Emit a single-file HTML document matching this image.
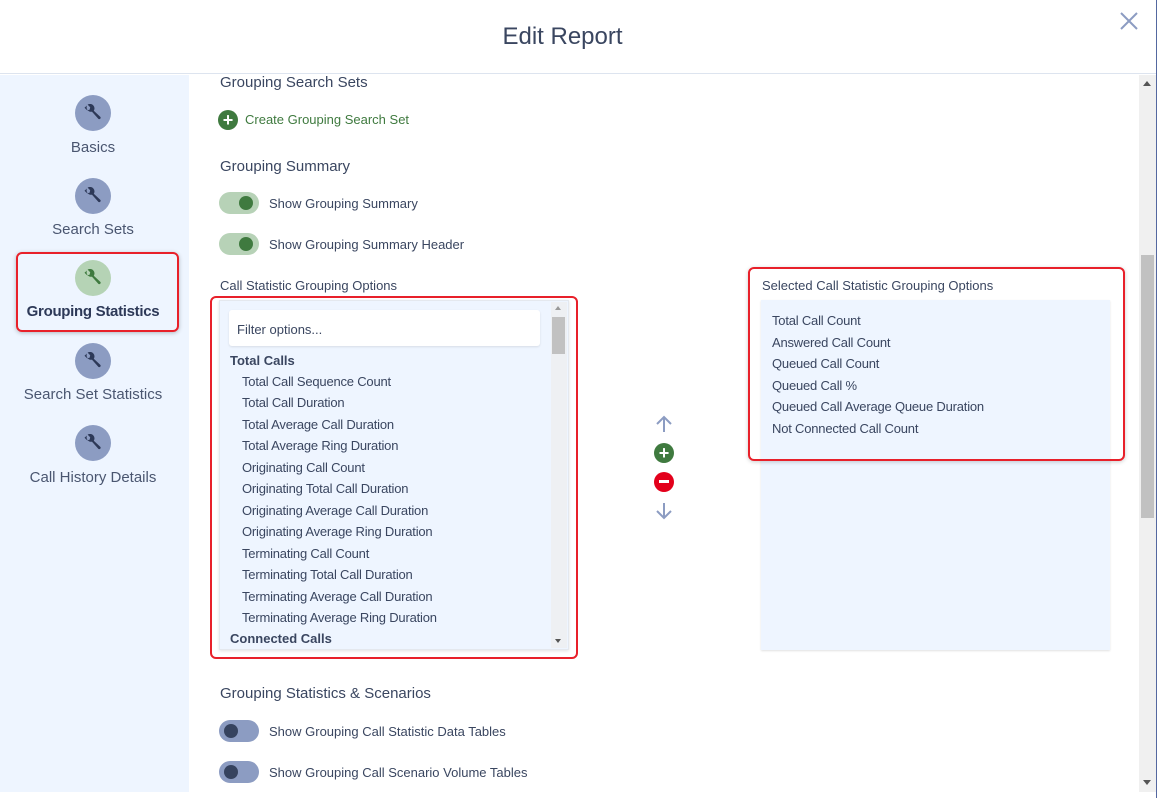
<!DOCTYPE html>
<html><head><meta charset="utf-8"><style>
*{margin:0;padding:0;box-sizing:border-box}
body{width:1157px;height:798px;overflow:hidden;background:#fff;font-family:"Liberation Sans",sans-serif;color:#3a4660;position:relative}
.a{position:absolute;white-space:nowrap}
.ic{position:absolute;width:36px;height:36px;border-radius:50%;background:#8c9cc2;left:75px}
.ic svg{position:absolute;left:9px;top:9px}
.nav{position:absolute;width:186px;text-align:center;font-size:15px;color:#4a5670}
.tog{position:absolute;left:219px;width:40px;height:22px;border-radius:11px}
.tog i{position:absolute;top:4px;width:14px;height:14px;border-radius:50%}
.li{position:absolute;left:242px;font-size:13px;letter-spacing:-0.2px}
.ri{position:absolute;left:772px;font-size:13px;letter-spacing:-0.2px}
</style></head><body>
<div class="a" style="left:0;top:0;width:1157px;height:74px;border-bottom:1px solid #dde4ef"></div>
<div class="a" style="left:0;top:23px;width:1125px;text-align:center;font-size:24px;color:#3a4660">Edit Report</div>
<svg class="a" style="left:1120px;top:12px" width="18" height="18"><path d="M1 1L17 17M17 1L1 17" stroke="#8c9cc2" stroke-width="2"/></svg>
<div class="a" style="left:0;top:75px;width:189px;height:717px;background:#eef5ff"></div>
<div class="a" style="left:1139px;top:75px;width:17px;height:717px;background:#f0f0f0"></div>
<div class="a" style="left:1141px;top:255px;width:13px;height:263px;background:#c1c1c1"></div>
<div class="a" style="left:1143px;top:81px;width:0;height:0;border:4px solid transparent;border-bottom:5px solid #555;border-top:0"></div>
<div class="a" style="left:1143px;top:780px;width:0;height:0;border:4px solid transparent;border-top:5px solid #555;border-bottom:0"></div>
<div class="a" style="left:1156px;top:0;width:1px;height:798px;background:#5468a0"></div>

<div class="ic" style="top:95px"><svg width="18" height="18" viewBox="0 0 18 18"><path d="M3 1.5a4.5 4.5 0 0 0 5 6.2L14.5 15a1.5 1.5 0 0 0 2-2L9.8 6.8A4.5 4.5 0 0 0 3.6.6l2.6 2.6-.6 2.5-2.5.6L.5 3.8" fill="#2d3958"/></svg></div>
<div class="nav" style="top:139px">Basics</div>
<div class="ic" style="top:178px"><svg width="18" height="18" viewBox="0 0 18 18"><path d="M3 1.5a4.5 4.5 0 0 0 5 6.2L14.5 15a1.5 1.5 0 0 0 2-2L9.8 6.8A4.5 4.5 0 0 0 3.6.6l2.6 2.6-.6 2.5-2.5.6L.5 3.8" fill="#2d3958"/></svg></div>
<div class="nav" style="top:221px">Search Sets</div>
<div class="a" style="left:16px;top:252px;width:163px;height:80px;border:2px solid #e8202a;border-radius:6px;box-shadow:0 1px 4px rgba(0,0,0,.25)"></div>
<div class="ic" style="top:260px;background:#b5d3b5"><svg width="18" height="18" viewBox="0 0 18 18"><path d="M3 1.5a4.5 4.5 0 0 0 5 6.2L14.5 15a1.5 1.5 0 0 0 2-2L9.8 6.8A4.5 4.5 0 0 0 3.6.6l2.6 2.6-.6 2.5-2.5.6L.5 3.8" fill="#3f7a3f"/></svg></div>
<div class="nav" style="top:303px;font-weight:bold;color:#2d3958;font-size:15px;letter-spacing:-0.3px">Grouping Statistics</div>
<div class="ic" style="top:343px"><svg width="18" height="18" viewBox="0 0 18 18"><path d="M3 1.5a4.5 4.5 0 0 0 5 6.2L14.5 15a1.5 1.5 0 0 0 2-2L9.8 6.8A4.5 4.5 0 0 0 3.6.6l2.6 2.6-.6 2.5-2.5.6L.5 3.8" fill="#2d3958"/></svg></div>
<div class="nav" style="top:386px">Search Set Statistics</div>
<div class="ic" style="top:425px"><svg width="18" height="18" viewBox="0 0 18 18"><path d="M3 1.5a4.5 4.5 0 0 0 5 6.2L14.5 15a1.5 1.5 0 0 0 2-2L9.8 6.8A4.5 4.5 0 0 0 3.6.6l2.6 2.6-.6 2.5-2.5.6L.5 3.8" fill="#2d3958"/></svg></div>
<div class="nav" style="top:469px">Call History Details</div>

<div class="a" style="left:220px;top:74px;font-size:15px">Grouping Search Sets</div>
<div class="a" style="left:218px;top:110px;width:20px;height:20px;border-radius:50%;background:#3f7a3f;color:#fff;font-size:18px;line-height:20px;text-align:center;font-weight:bold">+</div>
<div class="a" style="left:245px;top:112px;font-size:13px;color:#3f7a3f">Create Grouping Search Set</div>
<div class="a" style="left:220px;top:158px;font-size:15px">Grouping Summary</div>
<div class="tog" style="top:192px;background:#b7d2b7"><i style="left:20px;background:#3f7a3f"></i></div>
<div class="a" style="left:269px;top:196px;font-size:13px">Show Grouping Summary</div>
<div class="tog" style="top:233px;background:#b7d2b7"><i style="left:20px;background:#3f7a3f"></i></div>
<div class="a" style="left:269px;top:237px;font-size:13px">Show Grouping Summary Header</div>
<div class="a" style="left:220px;top:278px;font-size:13px">Call Statistic Grouping Options</div>

<div class="a" style="left:219px;top:300px;width:350px;height:350px;background:#eef5ff;border:1px solid #e4e8ee;box-shadow:0 1px 3px rgba(0,0,0,.12)"></div>
<div class="a" style="left:229px;top:310px;width:311px;height:36px;background:#fff;border-radius:3px;box-shadow:0 1px 2px rgba(0,0,0,.1)"></div>
<div class="a" style="left:237px;top:322px;font-size:13px">Filter options...</div>
<div class="a" style="left:551px;top:302px;width:16px;height:346px;background:#eef0f3"></div>
<div class="a" style="left:552px;top:317px;width:13px;height:37px;background:#c1c1c1"></div>
<div class="a" style="left:555px;top:306px;border:3px solid transparent;border-bottom:4px solid #999;border-top:0"></div>
<div class="a" style="left:555px;top:639px;border:3px solid transparent;border-top:4px solid #555;border-bottom:0"></div>
<div class="a" style="left:230px;top:353px;font-size:13px;font-weight:bold">Total Calls</div>
<div class="li" style="top:374px">Total Call Sequence Count</div>
<div class="li" style="top:395px">Total Call Duration</div>
<div class="li" style="top:417px">Total Average Call Duration</div>
<div class="li" style="top:438px">Total Average Ring Duration</div>
<div class="li" style="top:460px">Originating Call Count</div>
<div class="li" style="top:481px">Originating Total Call Duration</div>
<div class="li" style="top:503px">Originating Average Call Duration</div>
<div class="li" style="top:524px">Originating Average Ring Duration</div>
<div class="li" style="top:546px">Terminating Call Count</div>
<div class="li" style="top:567px">Terminating Total Call Duration</div>
<div class="li" style="top:589px">Terminating Average Call Duration</div>
<div class="li" style="top:610px">Terminating Average Ring Duration</div>
<div class="a" style="left:230px;top:631px;font-size:13px;font-weight:bold">Connected Calls</div>
<div class="a" style="left:210px;top:296px;width:368px;height:363px;border:2px solid #e8202a;border-radius:6px"></div>

<svg class="a" style="left:655px;top:415px" width="18" height="18"><path d="M9 17V2M2 9L9 2L16 9" stroke="#8c9cc2" stroke-width="2" fill="none"/></svg>
<div class="a" style="left:654px;top:443px;width:20px;height:20px;border-radius:50%;background:#3f7a3f;color:#fff;font-size:18px;line-height:20px;text-align:center;font-weight:bold">+</div>
<div class="a" style="left:654px;top:472px;width:20px;height:20px;border-radius:50%;background:#e3001b"><div style="position:absolute;left:5px;top:8px;width:10px;height:3px;background:#fff"></div></div>
<svg class="a" style="left:655px;top:502px" width="18" height="18"><path d="M9 1V16M2 9L9 16L16 9" stroke="#8c9cc2" stroke-width="2" fill="none"/></svg>

<div class="a" style="left:762px;top:278px;font-size:13px">Selected Call Statistic Grouping Options</div>
<div class="a" style="left:761px;top:300px;width:349px;height:350px;background:#eef5ff;box-shadow:0 1px 2px rgba(0,0,0,.12)"></div>
<div class="ri" style="top:313px">Total Call Count</div>
<div class="ri" style="top:335px">Answered Call Count</div>
<div class="ri" style="top:356px">Queued Call Count</div>
<div class="ri" style="top:378px">Queued Call %</div>
<div class="ri" style="top:399px">Queued Call Average Queue Duration</div>
<div class="ri" style="top:421px">Not Connected Call Count</div>
<div class="a" style="left:748px;top:267px;width:377px;height:194px;border:2px solid #e8202a;border-radius:6px;box-shadow:0 1px 4px rgba(0,0,0,.2)"></div>

<div class="a" style="left:220px;top:685px;font-size:15px">Grouping Statistics &amp; Scenarios</div>
<div class="tog" style="top:720px;background:#8c9cc2"><i style="left:5px;background:#36435f"></i></div>
<div class="a" style="left:269px;top:724px;font-size:13px">Show Grouping Call Statistic Data Tables</div>
<div class="tog" style="top:761px;background:#8c9cc2"><i style="left:5px;background:#36435f"></i></div>
<div class="a" style="left:269px;top:765px;font-size:13px">Show Grouping Call Scenario Volume Tables</div>
</body></html>
